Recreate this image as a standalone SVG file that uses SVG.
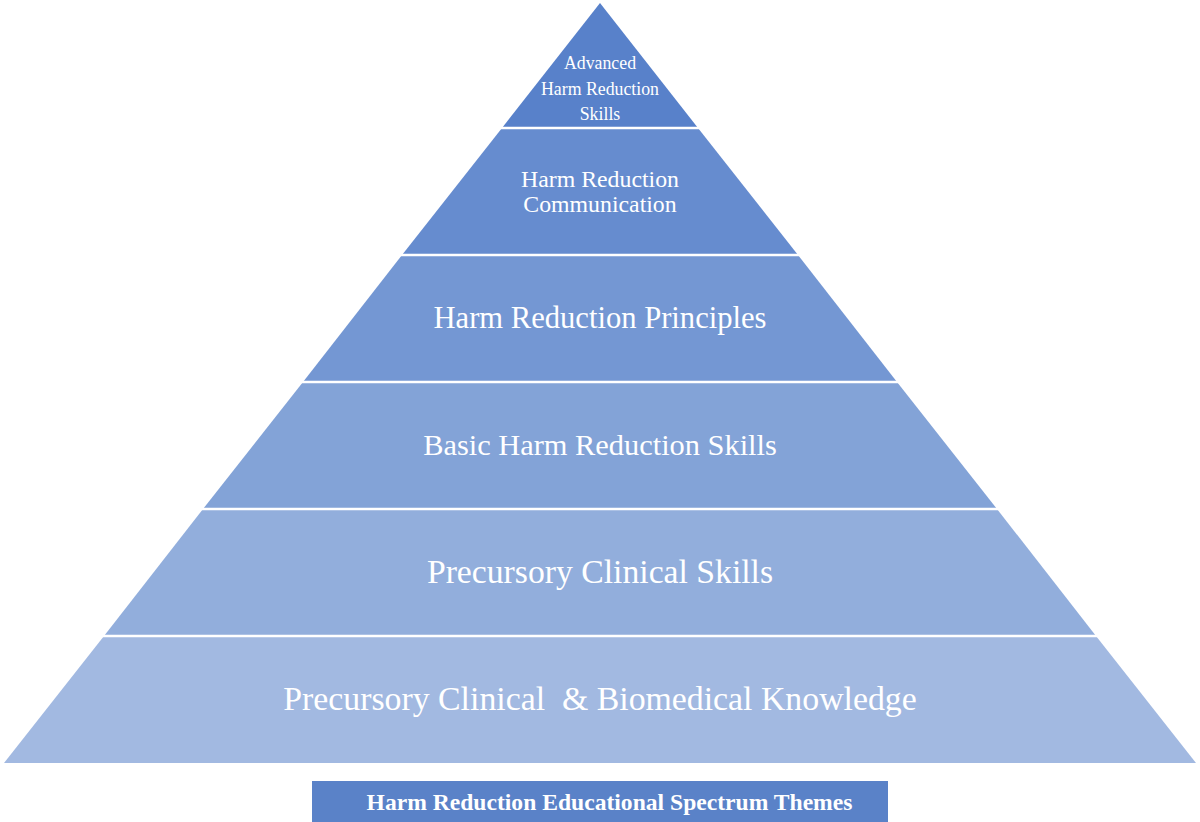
<svg xmlns="http://www.w3.org/2000/svg" width="1200" height="822" viewBox="0 0 1200 822">
<style>
.t{font-family:"Liberation Serif","Times New Roman",serif;fill:#fff;text-anchor:middle}
.sep{stroke:#fff;stroke-width:2.5}
</style>
<rect width="1200" height="822" fill="#fff"/>
<g id="layer1"><polygon points="600,3 502,128 698,128" fill="#5881CA"/>
<text class="t" font-size="17.8"><tspan x="600" y="69">Advanced</tspan><tspan x="600" y="95">Harm Reduction</tspan><tspan x="600" y="120">Skills</tspan></text></g>
<g id="layer2"><polygon points="502,128 698,128 798,255 402,255" fill="#668CCF"/>
<text class="t" font-size="23.8"><tspan x="600" y="187">Harm Reduction</tspan><tspan x="600" y="212">Communication</tspan></text></g>
<g id="layer3"><polygon points="402,255 798,255 897,382 303,382" fill="#7497D3"/>
<text class="t" font-size="30.6" x="600" y="328">Harm Reduction Principles</text></g>
<g id="layer4"><polygon points="303,382 897,382 997,509 203,509" fill="#83A3D7"/>
<text class="t" font-size="30.4" x="600" y="455">Basic Harm Reduction Skills</text></g>
<g id="layer5"><polygon points="203,509 997,509 1096,636 104,636" fill="#92AEDC"/>
<text class="t" font-size="33.7" x="600" y="583">Precursory Clinical Skills</text></g>
<g id="layer6"><polygon points="104,636 1096,636 1196,763 4,763" fill="#A2B9E1"/>
<text class="t" font-size="33.8" x="600" y="710" xml:space="preserve">Precursory Clinical  &amp; Biomedical Knowledge</text></g>
<g id="connectors">
<line class="sep" x1="490" y1="128" x2="710" y2="128"/>
<line class="sep" x1="390" y1="255" x2="810" y2="255"/>
<line class="sep" x1="290" y1="382" x2="910" y2="382"/>
<line class="sep" x1="190" y1="509" x2="1010" y2="509"/>
<line class="sep" x1="90" y1="636" x2="1110" y2="636"/>
</g>
<g id="footer"><rect x="312" y="781" width="576" height="41" fill="#5A82C8"/>
<text class="t" font-size="23.6" font-weight="bold" x="609.5" y="810">Harm Reduction Educational Spectrum Themes</text></g>
</svg>
